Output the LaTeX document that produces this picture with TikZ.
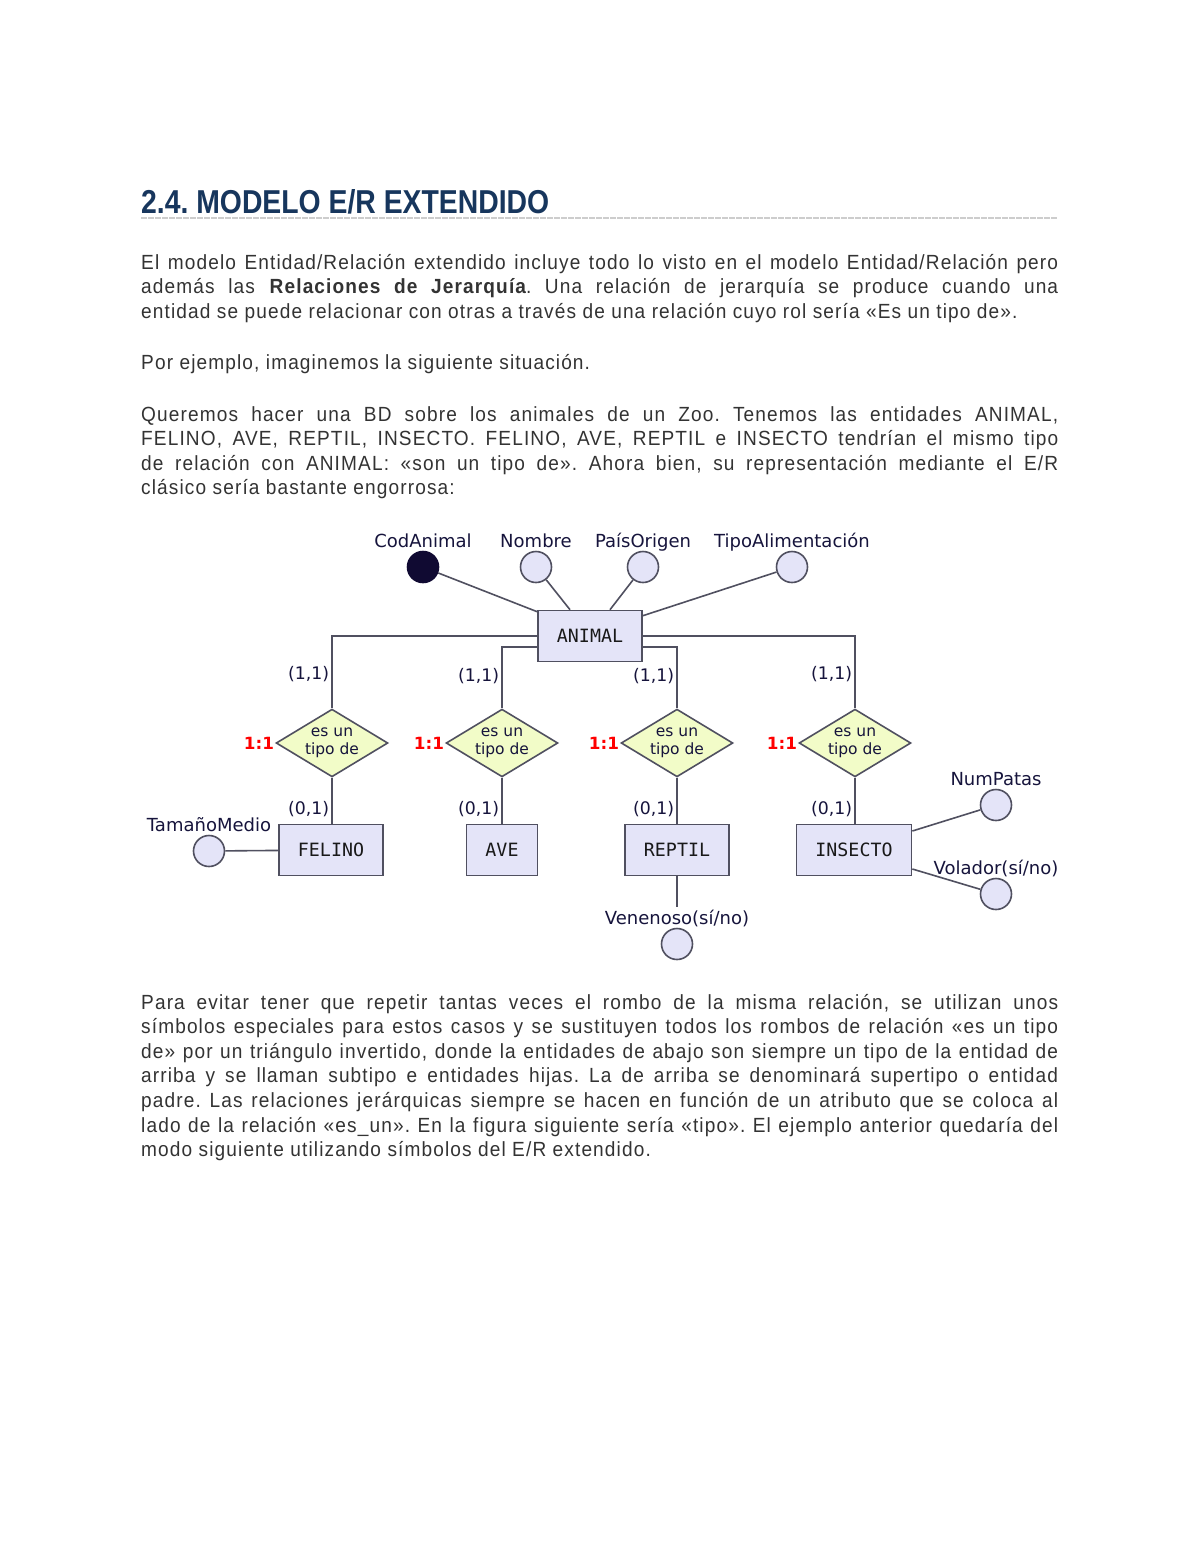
\documentclass[tikz,border=0pt]{standalone}
\usepackage{fontspec}
\setmainfont{Liberation Sans}[FakeStretch=0.93, LetterSpace=5.5]
\newfontfamily\djsans{DejaVu Sans}
\newfontfamily\djmono{DejaVu Sans Mono}
\newfontfamily\titlefont{Liberation Sans}
\usetikzlibrary{positioning,shapes.geometric}
\definecolor{zooTitle}{RGB}{23, 54, 93}
\definecolor{zooBody}{RGB}{51, 51, 51}
\definecolor{zooInk}{RGB}{22, 20, 60}
\definecolor{zooLine}{RGB}{80, 80, 96}
\definecolor{zooEnt}{RGB}{228, 228, 248}
\definecolor{zooRel}{RGB}{242, 252, 200}
\definecolor{zooKey}{RGB}{16, 10, 50}
\definecolor{zooRule}{RGB}{205, 205, 205}

\begin{document}
\frenchspacing
\begin{tikzpicture}[x=1pt, y=-1pt,
    para/.style={anchor=base west, inner sep=0pt, text width=917pt, align=justify, text=zooBody,
      font=\fontsize{20.5}{24.6}\selectfont},
    entity/.style={draw=zooLine, line width=1.6pt, fill=zooEnt, minimum height=51pt, inner xsep=19pt,
      font=\djmono\fontsize{18.3}{20}\selectfont, text=black!90},
    isa/.style={diamond, draw=zooLine, line width=1.6pt, fill=zooRel, aspect=1.65, inner sep=1.6pt,
      align=center, font=\djsans\fontsize{15.5}{18}\selectfont, text=zooInk},
    attr/.style={circle, draw=zooLine, line width=1.6pt, fill=zooEnt, minimum size=31pt, inner sep=0pt},
    keyattr/.style={attr, fill=zooKey, draw=zooKey},
    lbl/.style={inner sep=0pt, text depth=0pt, font=\djsans\fontsize{18}{20}\selectfont, text=zooInk},
    card/.style={inner sep=2pt, font=\djsans\fontsize{17.3}{20}\selectfont, text=zooInk},
    ratio/.style={inner sep=1pt, font=\djsans\bfseries\fontsize{16.8}{20}\selectfont, text=red},
    link/.style={draw=zooLine, line width=1.6pt}
  ]
  \useasboundingbox[fill=white] (0,0) rectangle (1200,1553);

  % heading and text
  \node[anchor=base west, inner sep=0pt, text=zooTitle] (title) at (141,213)
    {\resizebox{408pt}{24pt}{\titlefont\bfseries 2.4. MODELO E/R EXTENDIDO}};
  \coordinate (ruleA) at (141,218);
  \coordinate (ruleB) at (1058,218);
  \draw[zooRule, line width=2pt, dash pattern=on 6pt off 1pt] (ruleA) -- (ruleB);

  \node[para] (p1) at (141,269) {El modelo Entidad/Relación extendido incluye todo lo visto en el modelo Entidad/Relación pero\linebreak
    además las \textbf{Relaciones de Jerarquía}. Una relación de jerarquía se produce cuando una\linebreak
    entidad se puede relacionar con otras a través de una relación cuyo rol sería «Es un tipo de».};
  \node[para] (p2) at (141,369) {Por ejemplo, imaginemos la siguiente situación.};
  \node[para] (p3) at (141,421) {Queremos hacer una BD sobre los animales de un Zoo. Tenemos las entidades ANIMAL,\linebreak
    FELINO, AVE, REPTIL, INSECTO. FELINO, AVE, REPTIL e INSECTO tendrían el mismo tipo\linebreak
    de relación con ANIMAL: «son un tipo de». Ahora bien, su representación mediante el E/R\linebreak
    clásico sería bastante engorrosa:};

  % entities
  \node[entity] (animal) at (590,636) {ANIMAL};
  \node[entity] (felino) at (331,850) {FELINO};
  \node[entity] (ave) at (502,850) {AVE};
  \node[entity] (reptil) at (677,850) {REPTIL};
  \node[entity] (insecto) at (854,850) {INSECTO};

  % es un tipo de
  \node[isa] (isaF) at (332,743) {es un\\tipo de};
  \node[isa] (isaA) at (502,743) {es un\\tipo de};
  \node[isa] (isaR) at (677,743) {es un\\tipo de};
  \node[isa] (isaI) at (855,743) {es un\\tipo de};
  \node[ratio, left=0pt of isaF] (rF) {1:1};
  \node[ratio, left=0pt of isaA] (rA) {1:1};
  \node[ratio, left=0pt of isaR] (rR) {1:1};
  \node[ratio, left=0pt of isaI] (rI) {1:1};

  % attributes
  \node[keyattr] (cod) at (423,567) {};
  \node[attr] (nombre) at (536,567) {};
  \node[attr] (pais) at (643,567) {};
  \node[attr] (tipoal) at (792,567) {};
  \node[attr] (tamano) at (209,851) {};
  \node[attr] (venen) at (677,944) {};
  \node[attr] (patas) at (996,805) {};
  \node[attr] (volador) at (996,894) {};
  \node[lbl, above=3pt of cod] (codL) {CodAnimal};
  \node[lbl, above=3pt of nombre] (nombreL) {Nombre};
  \node[lbl, above=3pt of pais] (paisL) {PaísOrigen};
  \node[lbl, above=3pt of tipoal] (tipoalL) {TipoAlimentación};
  \node[lbl, above=3pt of tamano] (tamanoL) {TamañoMedio};
  \node[lbl, above=3pt of venen] (venenL) {Venenoso(sí/no)};
  \node[lbl, above=3pt of patas] (patasL) {NumPatas};
  \node[lbl, above=3pt of volador] (voladorL) {Volador(sí/no)};

  % connectors
  \draw[link] (cod) -- ([yshift=-2pt]animal.north west);
  \draw[link] (nombre) -- ([xshift=-20pt]animal.north);
  \draw[link] (pais) -- ([xshift=20pt]animal.north);
  \draw[link] (tipoal) -- ([yshift=-6pt]animal.north east);
  \draw[link] (animal.west) -| node[card, pos=0.76, left] (cF) {(1,1)} (isaF.north);
  \draw[link] ([yshift=-11pt]animal.west) -| node[card, pos=0.74, left] (cA) {(1,1)} (isaA.north);
  \draw[link] ([yshift=-11pt]animal.east) -| node[card, pos=0.74, left] (cR) {(1,1)} (isaR.north);
  \draw[link] (animal.east) -| node[card, pos=0.76, left] (cI) {(1,1)} (isaI.north);
  \draw[link] (isaF.south) -- node[card, pos=0.68, left] (zF) {(0,1)} (felino.north -| isaF.south);
  \draw[link] (isaA.south) -- node[card, pos=0.68, left] (zA) {(0,1)} (ave.north);
  \draw[link] (isaR.south) -- node[card, pos=0.68, left] (zR) {(0,1)} (reptil.north);
  \draw[link] (isaI.south) -- node[card, pos=0.68, left] (zI) {(0,1)} (insecto.north -| isaI.south);
  \draw[link] (tamano) -- (felino);
  \draw[link] (reptil.south) -- ([yshift=3pt]reptil.south |- venenL.north);
  \draw[link] ([yshift=19pt]insecto.east) -- (patas);
  \draw[link] ([yshift=-19pt]insecto.east) -- (volador);

  \node[para] (p4) at (141,1009) {Para evitar tener que repetir tantas veces el rombo de la misma relación, se utilizan unos\linebreak
    símbolos especiales para estos casos y se sustituyen todos los rombos de relación «es un tipo\linebreak
    de» por un triángulo invertido, donde la entidades de abajo son siempre un tipo de la entidad de\linebreak
    arriba y se llaman subtipo e entidades hijas. La de arriba se denominará supertipo o entidad\linebreak
    padre. Las relaciones jerárquicas siempre se hacen en función de un atributo que se coloca al\linebreak
    lado de la relación «es\_un». En la figura siguiente sería «tipo». El ejemplo anterior quedaría del\linebreak
    modo siguiente utilizando símbolos del E/R extendido.};
\end{tikzpicture}
\end{document}
